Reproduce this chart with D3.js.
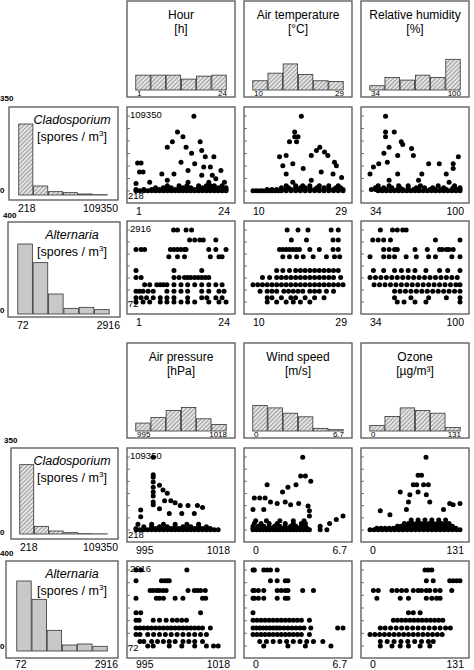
<!DOCTYPE html>
<html><head><meta charset="utf-8">
<script src="https://cdn.jsdelivr.net/npm/d3@7"></script>
<style>body{margin:0;background:#fff}text{font-family:Arial,"Liberation Sans",sans-serif}</style>
</head><body><div id="chart"></div>
<script>
// histogram bin heights (arbitrary count units)
const histHour = [45, 45, 45, 33, 42, 45];
const histTemp = [28, 51, 79, 47, 28, 26];
const histRH = [13, 38, 30, 45, 38, 93];
const histPressure = [24, 41, 62, 71, 37, 20];
const histWind = [77, 70, 54, 43, 8, 4];
const histOzone = [17, 44, 70, 62, 54, 11];
const histCladoTop = [213, 27, 10, 7, 3, 1];
const histAltTop = [210, 154, 60, 17, 20, 13];
const histCladoBot = [208, 23, 9, 4, 1, 0.5];
const histAltBot = [210, 155, 62, 18, 21, 14];

// Cladosporium scatter, y in 1000 spores/m3: scattered points + dense low rows
const claHour = [[15.8,109],[11.6,86],[13,79],[10.3,72],[9,64],[13.8,64],[17.4,72],[17.8,59],[15.2,55],[20.9,50],[18.7,50],[12.5,42],[16,40],[1.4,41],[2.3,41],[1.9,28],[2.8,28],[20,35],[22.7,30],[18.3,35],[14.3,30],[7.6,25],[10.7,25],[17.8,23],[20.5,23],[21.4,18],[1,11],[4.5,13],[9,16],[14.3,13],[19.6,13],[23.6,13]];
const claHourRows = [
  {y:0.5, x:[1,2,3,4,5,6,7,8,9,10,11,12,13,14,15,16,17,18,19,20,21,22,23,24]},
  {y:2.5, x:[1,3,5,7,9,10,11,12,13,14,15,16,17,18,19,20,21,22,23,24]},
  {y:5, x:[6,8,10,12,13,15,17,18,19,20,22,24]},
  {y:8, x:[9,12,14,17,19,20,21,23]}];
const claTemp = [[20.2,109],[18.8,86],[18.8,79],[19.5,79],[17.7,72],[19.2,72],[24.1,64],[23.4,59],[25.1,57],[22.3,52],[25.8,52],[15.6,50],[17,52],[27.2,42],[27.6,37],[16.3,37],[18.4,40],[20.6,33],[24.4,28],[26.9,25],[17,25],[28.7,20],[22.3,16],[18.4,13]];
const claTempRows = [
  {y:0.5, x:[10,10.7,11.4,12,12.7,13.4,14,14.7,15.4,16,17,18,19,20,21,22,23,24,25,26,27,28,29]},
  {y:2.5, x:[13,14,15,16,17,18,19,20,21,22,23,24,25,26,27,28,29]},
  {y:5, x:[16,17.5,19,20,21,22,23.5,25,26,27.5,28.5]},
  {y:8, x:[17,19,20.5,22,24,26,28]}];
const claRH = [[45.4,109],[45.4,86],[51.8,86],[45.4,79],[56.9,72],[58,68],[48,64],[64.5,62],[54.3,52],[44.2,55],[65.8,52],[36.5,35],[40.4,40],[46.7,42],[77,40],[84.8,40],[95,40],[98.8,50],[72,25],[89.9,25],[54.3,25],[34,25],[95,33],[48,16],[69.6,16],[92,13]];
const claRHRows = [
  {y:0.5, x:[40,43,46,49,52,55,58,61,64,67,70,73,76,79,82,85,88,91,94,97,100]},
  {y:2.5, x:[35,38,42,46,50,54,58,62,66,70,74,78,82,86,90,94,98,100]},
  {y:5, x:[38,44,50,56,62,68,74,80,88,95,100]},
  {y:8, x:[40,48,55,62,71,84,96]}];
const claPressure = [[999.4,109],[999.4,83],[999.4,79],[999.4,72],[999.4,64],[999.4,57],[999.4,51],[999.4,42],[999.4,38],[1001,67],[1001.9,60],[1003,55],[1002.3,44],[1003.9,44],[1005,41],[1006.3,37],[1008.3,37],[1010.7,37],[1012,34],[1001,32],[996.2,30],[996.2,20],[1003.5,25],[1006.7,25],[1009.9,25]];
const claPressureRows = [
  {y:0.5, x:[995,996,997,998,999,1000,1001,1002,1003,1004,1005,1006,1007,1008,1009,1010,1011,1012,1013,1014,1015,1016]},
  {y:2.5, x:[995,997,999,1000,1001,1002,1003,1004,1005,1006,1007,1008,1009,1010,1011,1012,1013,1014]},
  {y:5, x:[997,999,1001,1003,1005,1007,1009,1011,1013]},
  {y:9, x:[995.5,999,1002,1005,1008,1011]}];
const claWind = [[3.7,109],[3.55,81],[3.9,81],[4.3,73],[3.2,68],[2.6,64],[2.2,57],[1.05,68],[0.1,48],[0.5,48],[0.9,48],[1.3,42],[0,31],[0.8,31],[1.8,40],[2.4,42],[2.8,38],[3.4,40],[4.1,36],[4.2,29],[4.2,21],[6.7,21],[6.2,16],[5.7,10],[5,6]];
const claWindRows = [
  {y:0.5, x:[0,0.25,0.5,0.75,1,1.25,1.5,1.75,2,2.25,2.5,2.75,3,3.25,3.5,3.75,4,4.2,5,5.5]},
  {y:3, x:[0,0.3,0.6,0.9,1.2,1.5,1.8,2.1,2.4,2.7,3,3.3,3.6,4]},
  {y:6, x:[0,0.4,0.8,1.2,1.6,2,2.4,2.8,3.2,3.6,3.9]},
  {y:10, x:[0.1,0.6,1.2,1.8,2.4,3,3.6,3.9]},
  {y:14, x:[0.2,1,2,3,3.8]}];
const claOzone = [[81.5,109],[70,82],[75,82],[63,68],[68,68],[78,68],[85,68],[44,57],[58,53],[70,57],[82,53],[87,42],[56,42],[116,40],[121,38],[131,40],[15,29],[29,23],[53,31],[107,31]];
const claOzoneRows = [
  {y:0.5, x:[0,6,12,18,24,30,36,42,48,54,60,66,72,78,84,90,96,102,108,114,120,126,131]},
  {y:3, x:[10,16,22,28,34,40,46,52,58,64,70,76,82,88,94,100,106,112,118,125]},
  {y:6, x:[40,45,50,55,60,65,70,75,80,85,90,95,100,105,110,115,120]},
  {y:10, x:[50,56,62,68,74,80,86,92,98,104,110,115]},
  {y:15, x:[60,70,80,90,100,110]}];

// Alternaria scatter, rows of points at discrete concentration levels
const altHour = [
  {y:2916, x:[10.6,11.6,13.8,15.2]},
  {y:2518, x:[14.7,16,17.3,18.2,21.4]},
  {y:2150, x:[1,2.3,3.2,9.8,10.7,11.6,12.5,13.4,13.8,19.6,21.4,24]},
  {y:1860, x:[9.4,11.6,13.4,20,22.2,23]},
  {y:1320, x:[1,10.7,17.8]},
  {y:1040, x:[1,2.3,10.7,12,13.4,14.2,15,16,16.9,17.8,18.7,19.6]},
  {y:750, x:[3.2,4.5,6.3,7.2,8,8.9,10.7,12.5,14.2,16,17.8,19.6,21.4,23]},
  {y:500, x:[1,1.9,2.8,4.1,5.4,8.9,10.7,12.5,14.2,17.8,19.6,22.2,23.5]},
  {y:240, x:[1,2.3,3.7,5.4,7.2,8.9,10.7,14.2,17.8,19.1,21.4,23]},
  {y:72, x:[1,2.8,4.5,7.2,8.9,10.7,12.5,14.2,16,19.6,22.2,24]}];
const altTemp = [
  {y:2916, x:[17.2,19.5,21.6,26.5,28]},
  {y:2518, x:[18.1,21.3,26.9,28]},
  {y:2150, x:[15.6,16.3,17,17.7,18.4,19.1,19.8,22,24,26.9,28]},
  {y:1860, x:[16.3,17.7,19.2,20.6,22.7,25.5,27.2,28.3]},
  {y:1320, x:[15,16.3,17.7,19,20,21,22,23,24,25,26,27,28]},
  {y:1040, x:[12,13.5,15,16,17,18,19,20,21,22,23,24,25,26,27,28.5]},
  {y:750, x:[10,11,12,13,14,15,16,17,18,19,20,21,22,23,24,25,26,27,28,29]},
  {y:500, x:[11.5,13,14,15,16.5,17.5,18.5,19.5,20.5,22,23,24,25.5,27]},
  {y:240, x:[13,14,16,18,19,21,23,25]},
  {y:72, x:[13,15,17,18.5,20,22]}];
const altRH = [
  {y:2916, x:[41.6,50.5,54,58,60.5]},
  {y:2518, x:[36,40,44,49,82,100]},
  {y:2150, x:[44,48,52,54,67,76,85,87,90,92,95]},
  {y:1860, x:[34,44,48,52,60.5,68,77,82,94,100]},
  {y:1320, x:[36.5,44,52,57,62,67,75,85,91,100]},
  {y:1040, x:[34,38,42,46,50,54,58,62,66,70,74,78,82,86,90,94,98]},
  {y:750, x:[37,41,45,49,53,57,61,65,69,73,77,81,85,89,93,97,100]},
  {y:500, x:[52,56,60,64,68,72,76,80,84,88,92,96,100]},
  {y:240, x:[52,64,77,90,100]},
  {y:72, x:[54,59,67,75,100]}];
const altPressure = [
  {y:2916, x:[995,996.2,1008]},
  {y:2518, x:[995,1001.5,1002.3,1003,1003.5]},
  {y:2150, x:[998.6,999.4,1000.3,1001,1001.9,1002.7,1008.3,1009.9,1010.7,1011.5,1012.7]},
  {y:1860, x:[995,1000.2,1001,1002,1005,1007,1012,1012.8]},
  {y:1320, x:[995,996.2,1011.5]},
  {y:1040, x:[995,995.8,999.4,1001,1002.7,1004.3,1005.5,1006.7,1007.9]},
  {y:750, x:[995,996,997,998,999,1000,1001,1002,1003,1004,1005,1006,1007,1008,1009,1010,1011,1012,1014]},
  {y:500, x:[995,996,998,999.5,1001,1002.5,1004,1005.5,1007,1008.5,1010,1011.5,1013]},
  {y:240, x:[996,997,999,1000.5,1002,1003.5,1005,1007,1008.5,1010,1012]},
  {y:72, x:[998,999.4,1003.5,1006.7,1010,1013,1014.8,1016]}];
const altWind = [
  {y:2916, x:[0,0.1,0.8,1.05,1.3,1.8]},
  {y:2518, x:[1.3,1.8,2.4,2.6]},
  {y:2150, x:[0,0.1,0.4,0.8,1.8,2.1,2.4,2.6,3.7,4.5]},
  {y:1860, x:[0,0.1,0.4,0.8,1.8,2.4,2.6]},
  {y:1320, x:[0]},
  {y:1040, x:[0,0.3,0.6,0.9,1.2,1.5,1.8,2.1,2.4,2.7,3,3.3,3.6,4.2]},
  {y:750, x:[0,0.25,0.5,0.75,1,1.25,1.5,1.75,2,2.3,2.6,2.9,3.2,3.5,3.8,4.3,6.3,6.7]},
  {y:500, x:[0,0.3,0.6,0.9,1.2,1.5,1.8,2.1,2.4,2.7,3,3.3,3.6,4.2]},
  {y:240, x:[0.5,1,1.5,2,2.5,3,3.5,4,4.5,5.2]},
  {y:72, x:[0.8,2.6,3.9,5.8]}];
const altOzone = [
  {y:2916, x:[80,85,90]},
  {y:2518, x:[82,92,116,121,126,131]},
  {y:2150, x:[5,12,32,39,46,53,63,70,75,82,87,95,102,119]},
  {y:1860, x:[10,44,56,82,90,97,102]},
  {y:1320, x:[56,63,73]},
  {y:1040, x:[34,40,46,52,58,64,70,76,82,88,94,100,106]},
  {y:750, x:[15,22,30,38,46,54,62,70,78,86,94,102,110,117]},
  {y:500, x:[0,7,14,21,28,35,42,49,56,63,70,77,84,91,98,105]},
  {y:240, x:[15,25,35,45,55,65,75,85,92]},
  {y:72, x:[15,32,44,56,73,87]}];

const vars = [
  {title:"Hour", unit:"[h]", dom:[1,24], lab:["1","24"], hist:histHour, cla:claHour, claRows:claHourRows, alt:altHour},
  {title:"Air temperature", unit:"[°C]", dom:[10,29], lab:["10","29"], hist:histTemp, cla:claTemp, claRows:claTempRows, alt:altTemp},
  {title:"Relative humidity", unit:"[%]", dom:[34,100], lab:["34","100"], hist:histRH, cla:claRH, claRows:claRHRows, alt:altRH},
  {title:"Air pressure", unit:"[hPa]", dom:[995,1018], lab:["995","1018"], hist:histPressure, cla:claPressure, claRows:claPressureRows, alt:altPressure},
  {title:"Wind speed", unit:"[m/s]", dom:[0,6.7], lab:["0","6.7"], hist:histWind, cla:claWind, claRows:claWindRows, alt:altWind},
  {title:"Ozone", unit:"[µg/m³]", dom:[0,131], lab:["0","131"], hist:histOzone, cla:claOzone, claRows:claOzoneRows, alt:altOzone}
];

const svg = d3.select("#chart").append("svg").attr("width", 474).attr("height", 670);
const defs = svg.append("defs");
const pat = defs.append("pattern").attr("id", "hatch").attr("patternUnits", "userSpaceOnUse")
  .attr("width", 3).attr("height", 3).attr("patternTransform", "rotate(45)");
pat.append("rect").attr("width", 3).attr("height", 3).attr("fill", "#e4e4e4");
pat.append("line").attr("x1", 0).attr("y1", 0).attr("x2", 0).attr("y2", 3).attr("stroke", "#555").attr("stroke-width", 1);

function frame(x, y, w, h) {
  svg.append("rect").attr("x", x).attr("y", y).attr("width", w).attr("height", h)
    .attr("fill", "#fff").attr("stroke", "#555").attr("stroke-width", 1.3);
}

function bars(data, x0, x1, base, scaleH, fill) {
  const x = d3.scaleBand().domain(d3.range(data.length)).range([x0, x1]).padding(0.05);
  const y = d3.scaleLinear().domain([0, 100]).range([base, base - scaleH]);
  svg.append("g").selectAll("rect").data(data).join("rect")
    .attr("x", (d, i) => x(i)).attr("width", x.bandwidth())
    .attr("y", d => y(d)).attr("height", d => base - y(d))
    .attr("fill", fill).attr("stroke", "#333").attr("stroke-width", 0.8);
}

function scatter(x0, y0, w, h, xdom, ydom, pts, rows) {
  frame(x0, y0, w, h);
  const x = d3.scaleLinear().domain(xdom).range([x0 + 9, x0 + w - 9]);
  const y = d3.scaleLinear().domain(ydom).range([y0 + h - 12, y0 + 9]);
  const all = pts.concat(rows.flatMap(r => r.x.map(v => [v, r.y])));
  const g = svg.append("g");
  g.selectAll("line").data(d3.range(7)).join("line")
    .attr("x1", x0).attr("x2", x0 + 3)
    .attr("y1", i => y0 + h - 12 - i * (h - 21) / 6).attr("y2", i => y0 + h - 12 - i * (h - 21) / 6)
    .attr("stroke", "#555").attr("stroke-width", 0.8);
  g.selectAll("circle").data(all).join("circle")
    .attr("cx", d => x(d[0])).attr("cy", d => y(d[1])).attr("r", 2.5).attr("fill", "#000");
  return x;
}

const cols = [127, 244, 361], W = 108;
const sections = [
  {hy:1, hh:96, cy:107, ch:96, ay:221, ah:93, v:vars.slice(0, 3),
   cl:{x:9, w:109, base:195, bx:[18,108], hist:histCladoTop},
   al:{x:8, y:222, w:112, h:95, base:314, bx:[17,110], hist:histAltTop},
   cut:[["350",0,101],["0",0,193],["400",3,218],["0",0,313]]},
  {hy:343, hh:95, cy:448, ch:94, ay:561, ah:97, v:vars.slice(3),
   cl:{x:11, w:107, base:534, bx:[19,108], hist:histCladoBot},
   al:{x:6, y:561, w:112, h:97, base:651, bx:[16,108], hist:histAltBot},
   cut:[["350",4,443],["0",0,535],["400",0,556],["0",0,649]]}
];

sections.forEach(s => {
  s.v.forEach((v, i) => {
    const cx = cols[i];
    // header histogram
    frame(cx, s.hy, W, s.hh);
    svg.append("text").attr("x", cx + W / 2).attr("y", s.hy + 18).attr("text-anchor", "middle")
      .attr("font-size", 12).text(v.title);
    svg.append("text").attr("x", cx + W / 2).attr("y", s.hy + 32).attr("text-anchor", "middle")
      .attr("font-size", 12).text(v.unit);
    const base = s.hy + s.hh - 7;
    bars(v.hist, cx + 8, cx + W - 8, base, 33, "url(#hatch)");
    svg.append("text").attr("x", cx + 10).attr("y", s.hy + s.hh - 1).attr("font-size", 8).text(v.lab[0]);
    svg.append("text").attr("x", cx + W - 8).attr("y", s.hy + s.hh - 1).attr("font-size", 8)
      .attr("text-anchor", "end").text(v.lab[1]);
    // scatters
    scatter(cx, s.cy, W, s.ch, v.dom, [0.218, 109.35], v.cla, v.claRows);
    scatter(cx, s.ay, W, s.ah, v.dom, [72, 2916], [], v.alt);
    [s.cy + s.ch, s.ay + s.ah].forEach(yb => {
      const ty = Math.min(yb + 12, 668);
      svg.append("text").attr("x", cx + 9).attr("y", ty).attr("font-size", 10.5).text(v.lab[0]);
      svg.append("text").attr("x", cx + W - 5).attr("y", ty).attr("font-size", 10.5)
        .attr("text-anchor", "end").text(v.lab[1]);
    });
    if (i === 0) {
      svg.append("text").attr("x", cx + 3).attr("y", s.cy + 11).attr("font-size", 9.5).text("109350");
      svg.append("text").attr("x", cx + 1).attr("y", s.cy + s.ch - 4).attr("font-size", 9.5).text("218");
      svg.append("text").attr("x", cx + 3).attr("y", s.ay + 11).attr("font-size", 9.5).text("2916");
      svg.append("text").attr("x", cx + 1).attr("y", s.ay + s.ah - 7).attr("font-size", 9.5).text("72");
    }
  });
  // left histograms
  const c = s.cl;
  frame(c.x, s.cy, c.w, s.ch - 3);
  bars(c.hist, c.bx[0], c.bx[1], c.base, 100 / 3, "url(#hatch)");
  const a = s.al;
  frame(a.x, a.y, a.w, a.h);
  bars(a.hist, a.bx[0], a.bx[1], a.base, 100 / 3, "#c8c8c8");
  [[s.cy, c.x, c.w, "Cladosporium", "218", "109350", s.cy + s.ch - 3],
   [a.y, a.x, a.w, "Alternaria", "72", "2916", a.y + a.h]].forEach(([ty, lx, lw, nm, l0, l1, yb]) => {
    svg.append("text").attr("x", 72).attr("y", ty + 17).attr("text-anchor", "middle")
      .attr("font-size", 12.5).attr("font-style", "italic").text(nm);
    const t = svg.append("text").attr("x", 72).attr("y", ty + 34).attr("text-anchor", "middle").attr("font-size", 12.5);
    t.append("tspan").text("[spores / m");
    t.append("tspan").attr("font-size", 8).attr("dy", -5).text("3");
    t.append("tspan").attr("dy", 5).text("]");
    svg.append("text").attr("x", lx + 9).attr("y", Math.min(yb + 12, 668)).attr("font-size", 10.5).text(l0);
    svg.append("text").attr("x", lx + lw).attr("y", Math.min(yb + 12, 668)).attr("font-size", 10.5).attr("text-anchor", "end").text(l1);
  });
  s.cut.forEach(([t, x, y]) => svg.append("text").attr("x", x).attr("y", y).attr("font-size", 8)
    .attr("font-weight", "bold").text(t));
});
</script></body></html>
